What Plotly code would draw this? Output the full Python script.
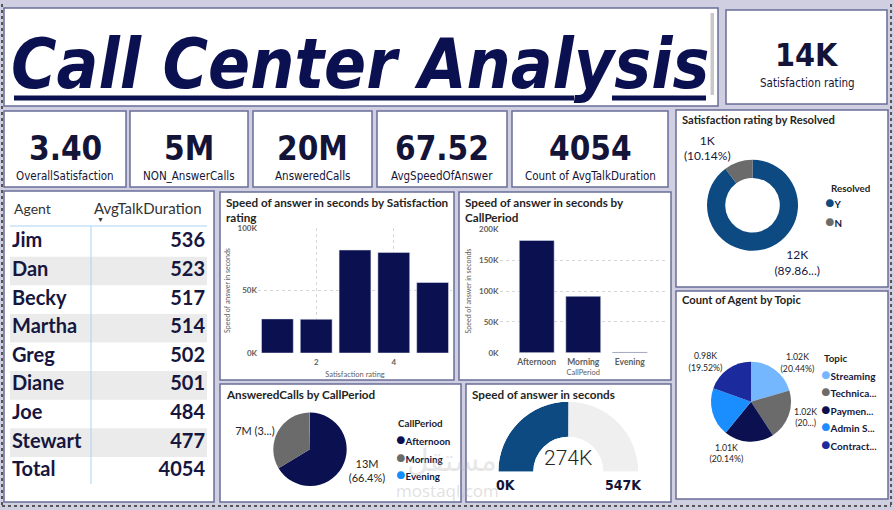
import plotly.graph_objects as go

W, H = 894, 510


def X(px):
    return px / W


def Y(py):
    return 1 - py / H


# ---------------- data ----------------
title_text = "Call Center Analysis"
sat_card_value = "14K"
sat_card_label = "Satisfaction rating"
kpi_values = ["3.40", "5M", "20M", "67.52", "4054"]
kpi_labels = ["OverallSatisfaction", "NON_AnswerCalls", "AnsweredCalls",
              "AvgSpeedOfAnswer", "Count of AvgTalkDuration"]

agents = ["Jim", "Dan", "Becky", "Martha", "Greg", "Diane", "Joe", "Stewart"]
avg_talk = [536, 523, 517, 514, 502, 501, 484, 477]
avg_talk_total = 4054
table_header = ["Agent", "AvgTalkDuration"]

sat_rating = [1, 2, 3, 4, 5]
speed_by_rating = [27300, 27000, 82400, 80500, 56400]
rating_ticks = [0, 50000, 100000]
rating_ticktext = ["0K", "50K", "100K"]

call_periods = ["Afternoon", "Morning", "Evening"]
speed_by_period = [182000, 91400, 1000]
period_ticks = [0, 50000, 100000, 150000, 200000]
period_ticktext = ["0K", "50K", "100K", "150K", "200K"]

answered_by_period = [13.10, 6.57, 0.06]  # millions
answered_text = ["13M<br>(66.4%)", "7M (3...)", ""]

resolved = ["Y", "N"]
sat_by_resolved = [12228, 1380]
resolved_text = ["12K<br>(89.86...)", "1K<br>(10.14%)"]

topics = ["Streaming", "Technical Support", "Payment related", "Admin Support", "Contract related"]
topic_legend = ["Streaming", "Technica...", "Paymen...", "Admin S...", "Contract..."]
topic_counts = [1022, 1017, 1007, 978, 976]
topic_text = ["1.02K<br>(20.44%)", "1.02K<br>(20...)", "1.01K<br>(20.14%)", "", "0.98K<br>(19.52%)"]

gauge_value = 274000
gauge_max = 547000

# ---------------- style ----------------
NAVY = "#0b1150"
BLUE = "#0d4a82"
GREY = "#6b6b6b"
BG = "#cfcfe1"
BORDER = "#6a6d98"
TXT = "#252423"
AX = "#605e5c"
INK = "#16163e"
NUMF = "DejaVu Sans Condensed, DejaVu Sans, sans-serif"
UIF = "Lato, Open Sans, sans-serif"
period_colors = [NAVY, GREY, "#118dff"]
resolved_colors = [BLUE, GREY]
topic_colors = ["#74b7ff", GREY, NAVY, "#1a8dff", "#1b2a9c"]

fig = go.Figure()

# ---------------- panels ----------------
panels = [
    (4, 8, 718, 106), (726, 10, 887, 104),
    (4, 111, 126, 187), (130, 111, 248, 187), (253, 111, 372, 187),
    (377, 111, 507, 187), (512, 111, 668, 187),
    (676, 110, 888, 287), (4, 191, 214, 502),
    (220, 192, 454, 380), (459, 192, 671, 380),
    (220, 384, 461, 502), (466, 384, 671, 502),
    (676, 291, 888, 499),
]
shapes = []
for (x0, y0, x1, y1) in panels:
    shapes.append(dict(type="rect", xref="paper", yref="paper", x0=X(x0), x1=X(x1),
                       y0=Y(y1), y1=Y(y0), fillcolor="white",
                       line=dict(color=BORDER, width=1.5), layer="below"))
# scroll bar in title panel
shapes.append(dict(type="rect", xref="paper", yref="paper", x0=X(710.5), x1=X(714),
                   y0=Y(95), y1=Y(13), fillcolor="#c8c8c8", line=dict(width=0), layer="below"))
# canvas dotted border
for (xa, ya, xb, yb) in [(2, 4, 2, 506), (2, 506, 891, 506), (891, 4, 891, 506)]:
    shapes.append(dict(type="line", xref="paper", yref="paper", x0=X(xa), x1=X(xb),
                       y0=Y(ya), y1=Y(yb), line=dict(color="#555555", width=2, dash="dot"),
                       layer="below"))
# title underline
for (xa, xb) in [(14, 574), (612, 706)]:
    shapes.append(dict(type="rect", xref="paper", yref="paper", x0=X(xa), x1=X(xb),
                       y0=Y(100.5), y1=Y(95.5), fillcolor=NAVY, line=dict(width=0)))
# table stripes (alternate rows) in table-axis coordinates
for i in range(1, len(agents), 2):
    shapes.append(dict(type="rect", xref="paper", yref="y3", x0=X(10), x1=X(207),
                       y0=i - 0.5, y1=i + 0.5, fillcolor="#ebebeb", line=dict(width=0),
                       layer="below"))
# table lines
shapes.append(dict(type="line", xref="paper", yref="paper", x0=X(10), x1=X(207),
                   y0=Y(226), y1=Y(226), line=dict(color="#a9d2f3", width=1)))
shapes.append(dict(type="line", xref="paper", yref="paper", x0=X(91), x1=X(91),
                   y0=Y(226), y1=Y(484), line=dict(color="#a9d2f3", width=1)))

ann = []


def text(x, y, s, size, color=TXT, family=UIF, xanchor="center", yanchor="middle",
         weight=None, align="left"):
    f = dict(size=size, color=color, family=family)
    if weight is not None:
        f["weight"] = weight
    ann.append(dict(x=X(x), y=Y(y), xref="paper", yref="paper", text=s, showarrow=False,
                    font=f, xanchor=xanchor, yanchor=yanchor, align=align))


# title
text(360, 64, "<b><i>" + title_text + "</i></b>", 69, color=NAVY, family=NUMF)
# 14K card
text(807, 55, "<b>" + sat_card_value + "</b>", 32, color="#141438", family=NUMF)
text(807, 83, sat_card_label, 11.5, color="#141438", family=NUMF)
# KPI cards
kpi_centers = [65, 189, 312.5, 442, 590]
for cx, v, lab in zip(kpi_centers, kpi_values, kpi_labels):
    text(cx, 148.5, "<b>" + v + "</b>", 33, color="#141438", family=NUMF)
    text(cx, 176, lab, 11.5, color="#141438", family=NUMF)

# chart titles
text(224, 193, "<b>Speed of answer in seconds by Satisfaction<br>rating</b>", 11.7,
     xanchor="left", yanchor="top")
text(463, 193, "<b>Speed of answer in seconds by<br>CallPeriod</b>", 11.7,
     xanchor="left", yanchor="top")
text(224, 385, "<b>AnsweredCalls by CallPeriod</b>", 11.7, xanchor="left", yanchor="top")
text(470, 385, "<b>Speed of answer in seconds</b>", 11.7, xanchor="left", yanchor="top")
text(680, 111, "<b>Satisfaction rating by Resolved</b>", 11.2, xanchor="left", yanchor="top")
text(680, 291, "<b>Count of Agent by Topic</b>", 11.2, xanchor="left", yanchor="top")

# table header
text(12, 208, table_header[0], 14, color="#333333", xanchor="left")
text(204, 208, table_header[1], 15, color="#333333", xanchor="right")
text(100, 219, "▼", 7, color="#333333")

# gauge labels
text(568, 458, f"{gauge_value / 1000:.0f}K", 21, color="#252423", family="Roboto, sans-serif", weight=300)
text(506, 485, "<b>0K</b>", 14, color="#141438", family=NUMF)
text(623, 485, f"<b>{gauge_max / 1000:.0f}K</b>", 14, color="#141438", family=NUMF)


# manual legends (Power BI style: circle markers)
def legend_block(tx, ty, title, labels, colors, mx, ys, size=9.8):
    text(tx, ty, "<b>" + title + "</b>", 9.8, color=TXT, xanchor="left")
    for lab, col, yy in zip(labels, colors, ys):
        text(mx - 6, yy, "<span style='color:%s;font-size:16px'>●</span><b>%s</b>" % (col, lab),
             size, color=INK, xanchor="left")


legend_block(396, 423, "CallPeriod", call_periods, period_colors, 400, [438, 456, 473])
legend_block(829, 188, "Resolved", resolved, resolved_colors, 829, [202, 220])
legend_block(822, 358, "Topic", topic_legend, topic_colors, 825, [373, 390.5, 408, 425.5, 443],
             size=10)

# watermark
text(452, 460, "مستقل", 30, color="rgba(175,175,175,0.30)", family="DejaVu Sans")
text(447, 490, "mostaql.com", 17, color="rgba(175,175,175,0.40)", family="Open Sans")

# ---------------- table (text on a hidden category axis) ----------------
rows = agents + ["Total"]
fig.add_trace(go.Scatter(
    x=[0] * len(rows), y=rows, mode="text", text=["<b>%s</b>" % r for r in rows],
    textposition="middle right", textfont=dict(size=20, color=INK, family=UIF),
    xaxis="x3", yaxis="y3", showlegend=False, hoverinfo="skip"))
fig.add_trace(go.Scatter(
    x=[1] * len(rows), y=rows, mode="text",
    text=["<b>%d</b>" % v for v in avg_talk + [avg_talk_total]],
    textposition="middle left", textfont=dict(size=20, color=INK, family=UIF),
    xaxis="x3", yaxis="y3", showlegend=False, hoverinfo="skip"))

# ---------------- bar charts ----------------
fig.add_trace(go.Bar(x=sat_rating, y=speed_by_rating, marker_color=NAVY, width=0.82,
                     xaxis="x", yaxis="y", showlegend=False))
fig.add_trace(go.Bar(x=call_periods, y=speed_by_period, marker_color=NAVY, width=0.75,
                     xaxis="x2", yaxis="y2", showlegend=False))

axfont = dict(size=8, color=AX, family=UIF, weight="bold")
grid = dict(showgrid=True, gridcolor="#d6d6d6", griddash="dot", zeroline=False,
            showline=False, ticks="", automargin=False)
fig.update_layout(
    xaxis=dict(domain=[X(258), X(452)], range=[0.5, 5.5], tickvals=[2, 4], anchor="y",
               tickfont=axfont, ticklabelstandoff=3,
               title=dict(text="Satisfaction rating", font=dict(size=7.5, color=AX, family=UIF),
                          standoff=5), **grid),
    yaxis=dict(domain=[Y(353), Y(228)], range=[0, 100000], tickvals=rating_ticks,
               ticktext=rating_ticktext, anchor="x", tickfont=axfont,
               title=dict(text="Speed of answer in seconds", font=dict(size=7, color=AX, family=UIF),
                          standoff=6), **grid),
    xaxis2=dict(domain=[X(499.5), X(667)], range=[-0.8, 2.8], type="category", anchor="y2",
                tickfont=dict(size=8.5, color=AX, family=UIF, weight="bold"), ticklabelstandoff=3,
                title=dict(text="CallPeriod", font=dict(size=7.5, color=AX, family=UIF),
                           standoff=3), **dict(grid, showgrid=False)),
    yaxis2=dict(domain=[Y(352.7), Y(229.3)], range=[0, 200000], tickvals=period_ticks,
                ticktext=period_ticktext, anchor="x2", tickfont=axfont,
                title=dict(text="Speed of answer in seconds", font=dict(size=7, color=AX, family=UIF),
                           standoff=6), **grid),
    xaxis3=dict(domain=[X(12), X(205)], range=[0, 1], visible=False, fixedrange=True, anchor="y3"),
    yaxis3=dict(domain=[Y(485.5), Y(228.1)], type="category", categoryarray=rows,
                categoryorder="array", range=[len(rows) - 0.5, -0.5], visible=False,
                fixedrange=True, anchor="x3"),
)

# ---------------- pies ----------------
fig.add_trace(go.Pie(
    labels=call_periods, values=answered_by_period, sort=False, direction="clockwise",
    rotation=0, domain=dict(x=[X(273.3), X(346.7)], y=[Y(486), Y(412.6)]),
    marker=dict(colors=period_colors), text=answered_text, textinfo="text",
    textposition="outside", outsidetextfont=dict(size=11, color=TXT, family=UIF),
    showlegend=False))
fig.add_trace(go.Pie(
    labels=resolved, values=sat_by_resolved, sort=False, direction="clockwise", hole=0.6,
    rotation=0, domain=dict(x=[X(707), X(798)], y=[Y(250.7), Y(159.7)]),
    marker=dict(colors=resolved_colors), text=resolved_text, textinfo="text",
    textposition="outside", outsidetextfont=dict(size=12, color=INK, family=UIF),
    showlegend=False))
fig.add_trace(go.Pie(
    labels=topic_legend, values=topic_counts, sort=False, direction="clockwise",
    rotation=0, domain=dict(x=[X(711), X(791)], y=[Y(441.7), Y(361.7)]),
    customdata=topics, hovertemplate="%{customdata}: %{value}<extra></extra>",
    marker=dict(colors=topic_colors),
    text=topic_text, textinfo="text", textposition="outside",
    outsidetextfont=dict(size=8.7, color=TXT, family=UIF), showlegend=False))

# ---------------- gauge ----------------
ang = 180 * gauge_value / gauge_max
fig.add_trace(go.Barpolar(
    r=[1, 1], theta=[ang / 2, ang + (180 - ang) / 2], width=[ang, 180 - ang],
    marker=dict(color=[BLUE, "#efefef"], line=dict(width=0)), subplot="polar",
    showlegend=False, hoverinfo="skip"))
fig.update_layout(polar=dict(
    domain=dict(x=[X(498.3), X(638.3)], y=[Y(471.7), Y(401.7)]), sector=[0, 180], hole=0.5,
    bgcolor="rgba(0,0,0,0)",
    radialaxis=dict(visible=False, range=[0, 1]),
    angularaxis=dict(visible=False, rotation=180, direction="clockwise")))

fig.update_layout(
    width=W, height=H, margin=dict(l=0, r=0, t=0, b=0),
    paper_bgcolor=BG, plot_bgcolor="rgba(0,0,0,0)",
    shapes=shapes, annotations=ann, showlegend=False,
)

fig.write_html("out.html")
